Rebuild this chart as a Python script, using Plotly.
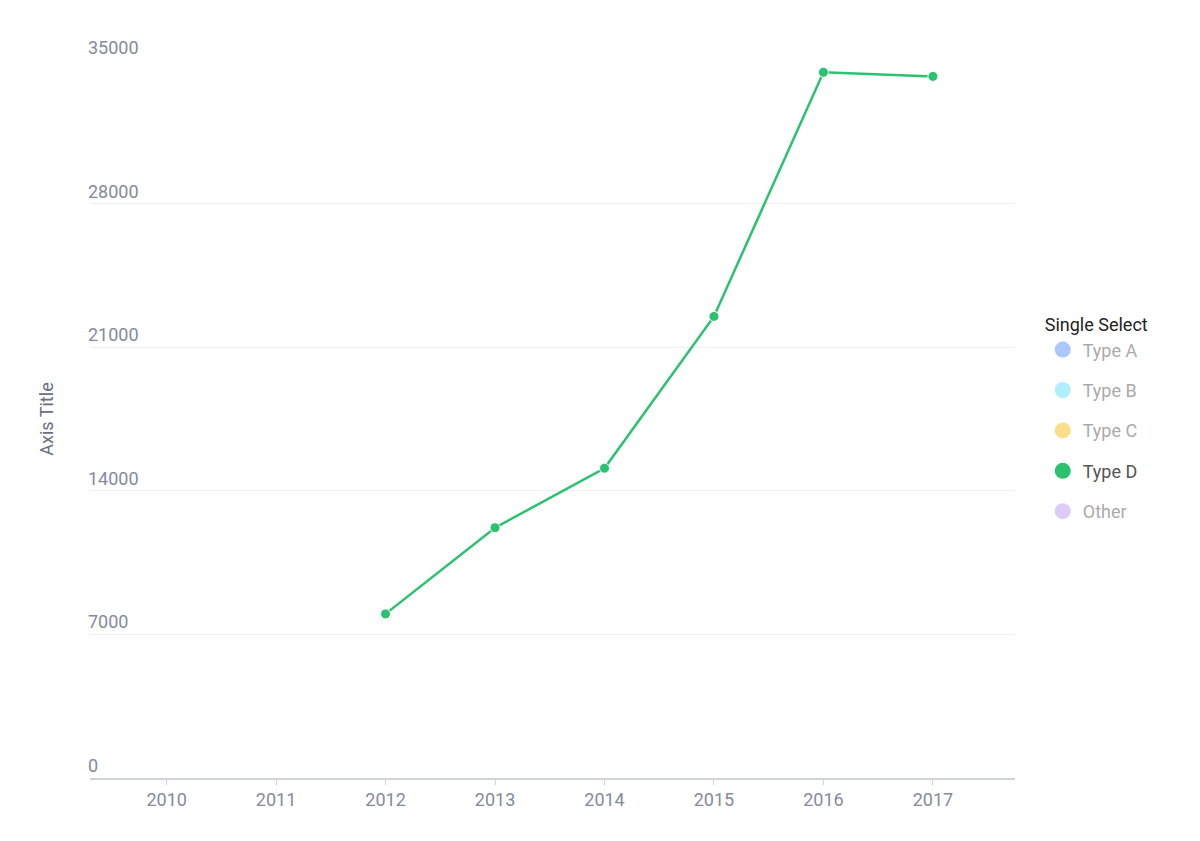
import plotly.graph_objects as go

years = ["2010", "2011", "2012", "2013", "2014", "2015", "2016", "2017"]
type_d_years = ["2012", "2013", "2014", "2015", "2016", "2017"]
type_d_values = [8000, 12200, 15100, 22500, 34400, 34200]
legend_names = ["Type A", "Type B", "Type C", "Type D", "Other"]
legend_colors = ["#5B8FF9", "#61DDF6", "#F6BD16", "#2BC26F", "#B99AF0"]
y_ticks = [0, 7000, 14000, 21000, 28000, 35000]

fig = go.Figure()
fig.add_trace(go.Scatter(x=type_d_years, y=type_d_values, name="Type D", mode="lines+markers",
                         legendgroup="Type D", showlegend=False,
                         line=dict(color="#2BC26F", width=2.5),
                         marker=dict(color="#2BC26F", size=10, line=dict(color="white", width=1))))
for name, c in zip(legend_names, legend_colors):
    fig.add_trace(go.Scatter(x=[years[0]], y=[None], name=name, mode="markers",
                             legendgroup=name, marker=dict(color=c, size=16),
                             visible=True if name == "Type D" else "legendonly"))

for v in y_ticks:
    fig.add_annotation(x=0, xref="paper", y=v, yref="y", text=str(v), showarrow=False,
                       xanchor="left", yanchor="bottom", xshift=-4,
                       font=dict(size=18, color="#858a9c"))

fig.update_layout(
    width=1200, height=841, paper_bgcolor="white", plot_bgcolor="white",
    margin=dict(l=82, r=193, t=52, b=71),
    font=dict(family="Roboto, Inter, sans-serif", color="#858a9c", size=17),
    showlegend=True,
    legend=dict(title=dict(text="Single Select", font=dict(size=18, color="#222")),
                x=1.03, y=0.5, xanchor="left", yanchor="middle",
                font=dict(size=18, color="#555"), itemwidth=30, tracegroupgap=14),
    xaxis=dict(type="category", categoryorder="array", categoryarray=years,
               range=[-0.7, 7.75], showgrid=False, showline=True, linecolor="#cfd3dc",
               linewidth=1.5, ticks="outside", ticklen=5, tickcolor="#cfd3dc",
               tickfont=dict(size=18, color="#858a9c"), zeroline=False),
    yaxis=dict(range=[0, 35000], tickvals=y_ticks, showticklabels=False,
               showgrid=True, gridcolor="#eceef3", zeroline=False,
               title=dict(text="Axis Title", font=dict(size=18, color="#6b7080"), standoff=30)),
)
fig.write_html("out.html")
